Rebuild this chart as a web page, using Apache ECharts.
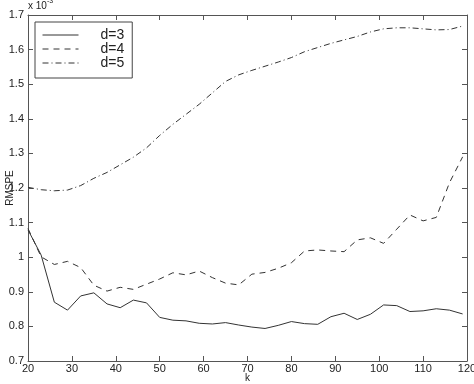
<!DOCTYPE html>
<html>
<head>
<meta charset="utf-8">
<script src="https://cdn.jsdelivr.net/npm/echarts@6/dist/echarts.min.js"></script>
<style>html,body{margin:0;padding:0;background:#fff}#c{width:474px;height:384px}</style>
</head>
<body>
<div id="c"></div>
<script>
// k values (step 3 from 20)
var kValues = [20,23,26,29,32,35,38,41,44,47,50,53,56,59,62,65,68,71,74,77,80,83,86,89,92,95,98,101,104,107,110,113,116,119];
// RMSPE (x 10^-3)
var d3 = [1.079,1.006,0.870,0.847,0.888,0.897,0.865,0.854,0.876,0.868,0.826,0.818,0.816,0.809,0.807,0.811,0.804,0.798,0.794,0.803,0.814,0.808,0.806,0.828,0.838,0.820,0.835,0.862,0.860,0.843,0.845,0.851,0.847,0.836];
var d4 = [1.083,1.001,0.979,0.988,0.970,0.919,0.902,0.913,0.907,0.922,0.937,0.955,0.949,0.960,0.941,0.925,0.920,0.951,0.956,0.968,0.984,1.018,1.021,1.018,1.016,1.050,1.056,1.040,1.081,1.122,1.105,1.115,1.215,1.290];
var d5 = [1.202,1.195,1.192,1.194,1.207,1.228,1.245,1.267,1.289,1.316,1.352,1.384,1.413,1.442,1.475,1.508,1.527,1.540,1.552,1.564,1.577,1.594,1.606,1.618,1.628,1.638,1.651,1.660,1.663,1.663,1.660,1.657,1.658,1.668];
var seriesNames = ['d=3','d=4','d=5'];
var xTicks = [20,30,40,50,60,70,80,90,100,110,120];
var yTicks = [0.7,0.8,0.9,1,1.1,1.2,1.3,1.4,1.5,1.6,1.7];

function pairs(ys){ return kValues.map(function(k,i){ return [k, ys[i]]; }); }

var font = 'Liberation Sans, Arial, Helvetica, sans-serif';
var axisCol = '#555';
var lineCol = '#333';

var chart = echarts.init(document.getElementById('c'), null, {renderer:'canvas'});
var baseX = {type:'value', min:xTicks[0], max:xTicks[xTicks.length-1], interval:10,
  axisLine:{show:true, lineStyle:{color:axisCol, width:1}},
  axisTick:{show:true, inside:true, length:5, lineStyle:{color:axisCol}},
  splitLine:{show:false}};
var baseY = {type:'value', min:yTicks[0], max:yTicks[yTicks.length-1], interval:0.1,
  axisLine:{show:true, lineStyle:{color:axisCol, width:1}},
  axisTick:{show:true, inside:true, length:5, lineStyle:{color:axisCol}},
  splitLine:{show:false}};

chart.setOption({
  animation:false,
  backgroundColor:'#fff',
  textStyle:{fontFamily:font},
  grid:{left:28, right:7, top:15, bottom:23, containLabel:false, outerBoundsMode:'none'},
  xAxis:[
    Object.assign({}, baseX, {position:'bottom', name:'k', nameLocation:'middle', nameGap:12,
      nameMoveOverlap:false,
      nameTextStyle:{fontSize:10, color:'#222', fontFamily:font},
      axisLabel:{show:true, margin:2, fontSize:11, color:'#222', fontFamily:font, hideOverlap:false,
        alignMinLabel:'center', alignMaxLabel:'center',
        formatter:function(v){return String(Math.round(v));}}}),
    Object.assign({}, baseX, {position:'top', axisLabel:{show:false}})
  ],
  yAxis:[
    Object.assign({}, baseY, {position:'left', name:'RMSPE', nameLocation:'middle', nameGap:13,
      nameMoveOverlap:false,
      nameTextStyle:{fontSize:10, color:'#222', fontFamily:font},
      axisLabel:{show:true, margin:4, fontSize:11, color:'#222', fontFamily:font,
        formatter:function(v){return String(+v.toFixed(1));}}}),
    Object.assign({}, baseY, {position:'right', axisLabel:{show:false}})
  ],
  legend:{
    orient:'vertical', left:35, top:22,
    data:seriesNames,
    icon:'inherit',
    itemWidth:36, itemHeight:13, itemGap:0,
    padding:[6,8,8,7],
    backgroundColor:'#fff', borderColor:'#444', borderWidth:1,
    lineStyle:{width:1},
    itemStyle:{opacity:0, borderWidth:0},
    textStyle:{fontSize:14, lineHeight:13, color:'#222', fontFamily:font, padding:[0,0,0,17]},
    z:10
  },
  graphic:[
    {type:'text', left:28, top:1, style:{text:'x 10', fontSize:10, fill:'#222', fontFamily:font}},
    {type:'text', left:47, top:-2, style:{text:'-3', fontSize:7, fill:'#222', fontFamily:font}}
  ],
  series:[
    {name:seriesNames[0], type:'line', data:pairs(d3), symbol:'none', showSymbol:false,
      lineStyle:{color:lineCol, width:1, type:'solid'}, itemStyle:{color:lineCol}},
    {name:seriesNames[1], type:'line', data:pairs(d4), symbol:'none', showSymbol:false,
      lineStyle:{color:lineCol, width:1, type:[6,5]}, itemStyle:{color:lineCol}},
    {name:seriesNames[2], type:'line', data:pairs(d5), symbol:'none', showSymbol:false,
      lineStyle:{color:lineCol, width:1, type:[6,3,1,3]}, itemStyle:{color:lineCol}}
  ]
});
</script>
</body>
</html>
